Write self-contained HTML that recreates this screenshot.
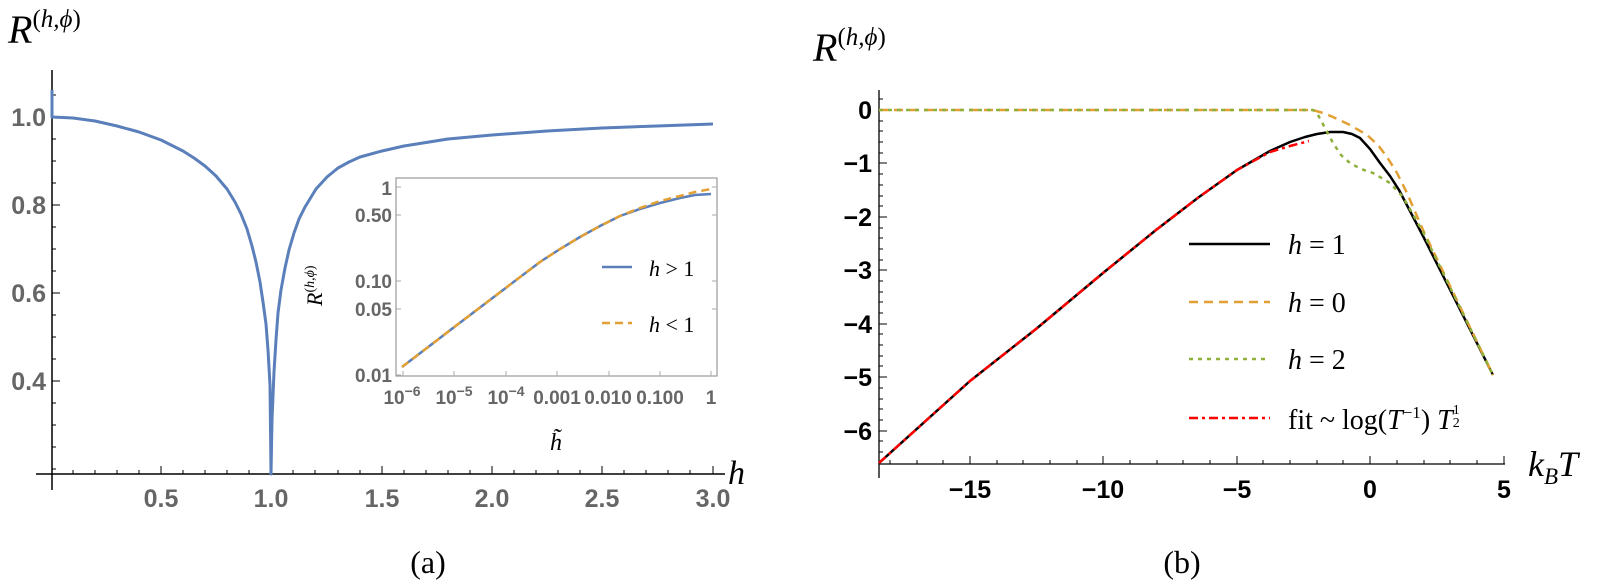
<!DOCTYPE html>
<html><head><meta charset="utf-8"><style>
html,body{margin:0;padding:0;background:#fff;}
svg{display:block;}
.tl{font-family:"Liberation Sans",sans-serif;font-weight:bold;font-size:25px;fill:#666;}
.tb{font-family:"Liberation Sans",sans-serif;font-weight:bold;font-size:25px;fill:#000;}
.ti{font-family:"Liberation Sans",sans-serif;font-weight:bold;font-size:19px;fill:#666;}
.m{font-family:"Liberation Serif",serif;font-style:italic;}
.r{font-family:"Liberation Serif",serif;}
</style></head><body>
<svg width="1604" height="583" viewBox="0 0 1604 583" xmlns="http://www.w3.org/2000/svg">
<!-- Panel a -->
<text x="8" y="43" class="m" font-size="40">R<tspan font-size="25" dy="-16" font-style="normal">(</tspan><tspan font-size="25">h,ϕ</tspan><tspan font-size="25" font-style="normal">)</tspan></text>
<g stroke="#000" stroke-width="1.5">
<line x1="52" y1="70" x2="52" y2="490"/>
<line x1="36" y1="474" x2="725" y2="474"/>
</g>
<g stroke="#000" stroke-width="1">
<path d="M52 117h8M52 205h8M52 293h8M52 381h8M52 95h4M52 139h4M52 161h4M52 183h4M52 227h4M52 249h4M52 271h4M52 315h4M52 337h4M52 359h4M52 403h4M52 425h4M52 447h4M52 469h4"/>
<path d="M161 474v-8M271 474v-8M382 474v-8M492 474v-8M602 474v-8M713 474v-8"/>
<path d="M73 474v-4M95 474v-4M117 474v-4M139 474v-4M183 474v-4M205 474v-4M227 474v-4M249 474v-4M293 474v-4M315 474v-4M338 474v-4M360 474v-4M404 474v-4M426 474v-4M448 474v-4M470 474v-4M514 474v-4M536 474v-4M558 474v-4M580 474v-4M624 474v-4M646 474v-4M668 474v-4M690 474v-4"/>
</g>
<g class="tl" text-anchor="end">
<text x="46" y="126">1.0</text><text x="46" y="214">0.8</text><text x="46" y="302">0.6</text><text x="46" y="390">0.4</text>
</g>
<g class="tl" text-anchor="middle">
<text x="161" y="507">0.5</text><text x="271" y="507">1.0</text><text x="382" y="507">1.5</text><text x="492" y="507">2.0</text><text x="602" y="507">2.5</text><text x="713" y="507">3.0</text>
</g>
<text x="728" y="484" class="m" font-size="34">h</text>
<polyline fill="none" stroke="#5a7fba" stroke-width="3" stroke-linejoin="round" points="52,90 52,117 73,118 95,121 117,126 139,132 161,140 183,151 194,158 205,166 216,176 227,189 235,202 241,214 247,229 252,246 256,262 260,282 263,302 266,324 268,350 270,385 271,474 272,420 274,372 276,340 278,313 281,290 285,268 289,250 294,233 299,219 305,207 316,189 327,177 338,168 349,162 360,157 382,151 404,146 448,139 492,135 547,131 602,128 657,126 713,124"/>
<!-- inset -->
<rect x="396" y="178" width="321" height="198" fill="#fff" stroke="#999" stroke-width="1.2"/>
<g stroke="#aaa" stroke-width="1">
<path d="M396 187h5M396 215h5M396 281h5M396 309h5M396 375h5M717 187h-5M717 215h-5M717 281h-5M717 309h-5"/>
<path d="M403 376v-5M454 376v-5M506 376v-5M557 376v-5M609 376v-5M660 376v-5M711 376v-5"/>
</g>
<g class="ti" text-anchor="end">
<text x="392" y="195">1</text><text x="392" y="222">0.50</text><text x="392" y="288">0.10</text><text x="392" y="316">0.05</text><text x="392" y="382">0.01</text>
</g>
<g class="ti" text-anchor="middle">
<text x="402" y="404">10<tspan font-size="14" dy="-8">−6</tspan></text>
<text x="454" y="404">10<tspan font-size="14" dy="-8">−5</tspan></text>
<text x="506" y="404">10<tspan font-size="14" dy="-8">−4</tspan></text>
<text x="557" y="404">0.001</text><text x="608" y="404">0.010</text><text x="660" y="404">0.100</text><text x="711" y="404">1</text>
</g>
<text transform="translate(322,306) rotate(-90)" class="m" font-size="22">R<tspan font-size="14" dy="-8" font-style="normal">(</tspan><tspan font-size="14">h,ϕ</tspan><tspan font-size="14" font-style="normal">)</tspan></text>
<text x="550" y="450" class="m" font-size="24">h̃</text>
<polyline fill="none" stroke="#5a7fba" stroke-width="2.5" points="402,367 453,328 507,287 540,262 560,249 580,237 600,226 620,216 640,209 660,203 680,198 695,195 711,194"/>
<polyline fill="none" stroke="#e2a034" stroke-width="2.5" stroke-dasharray="8,5" points="402,367 453,328 507,287 540,262 560,249 580,237 600,226 620,216 640,208 660,201 680,196 695,192 711,189"/>
<line x1="602" y1="267" x2="632" y2="267" stroke="#5a7fba" stroke-width="2.5"/>
<line x1="602" y1="323" x2="632" y2="323" stroke="#e2a034" stroke-width="2.5" stroke-dasharray="8,5"/>
<text x="649" y="276" class="m" font-size="22">h <tspan font-style="normal">&gt; 1</tspan></text>
<text x="649" y="332" class="m" font-size="22">h <tspan font-style="normal">&lt; 1</tspan></text>
<text x="428" y="573" class="r" font-size="32" text-anchor="middle">(a)</text>

<!-- Panel b -->
<text x="813" y="61" class="m" font-size="40">R<tspan font-size="25" dy="-16" font-style="normal">(</tspan><tspan font-size="25">h,ϕ</tspan><tspan font-size="25" font-style="normal">)</tspan></text>
<g stroke="#000" stroke-width="1.3">
<line x1="879" y1="90" x2="879" y2="478"/>
<line x1="879" y1="464" x2="1505" y2="464"/>
</g>
<g stroke="#000" stroke-width="1">
<path d="M879 110h8M879 163h8M879 217h8M879 270h8M879 324h8M879 377h8M879 431h8"/>
<path d="M879 99h4M879 121h4M879 131h4M879 142h4M879 153h4M879 174h4M879 185h4M879 196h4M879 206h4M879 228h4M879 238h4M879 249h4M879 260h4M879 281h4M879 292h4M879 302h4M879 313h4M879 334h4M879 345h4M879 356h4M879 366h4M879 388h4M879 399h4M879 409h4M879 420h4M879 441h4M879 452h4"/>
<path d="M970 464v-8M1103 464v-8M1237 464v-8M1370 464v-8M1504 464v-8"/>
<path d="M890 464v-4M917 464v-4M943 464v-4M997 464v-4M1023 464v-4M1050 464v-4M1077 464v-4M1130 464v-4M1157 464v-4M1183 464v-4M1210 464v-4M1263 464v-4M1290 464v-4M1317 464v-4M1343 464v-4M1397 464v-4M1424 464v-4M1450 464v-4M1477 464v-4"/>
</g>
<g class="tb" text-anchor="end">
<text x="872" y="119">0</text><text x="872" y="172">−1</text><text x="872" y="226">−2</text><text x="872" y="279">−3</text><text x="872" y="333">−4</text><text x="872" y="386">−5</text><text x="872" y="440">−6</text>
</g>
<g class="tb" text-anchor="middle">
<text x="970" y="498">−15</text><text x="1103" y="498">−10</text><text x="1237" y="498">−5</text><text x="1370" y="498">0</text><text x="1504" y="498">5</text>
</g>
<text x="1528" y="476" class="m" font-size="36">k<tspan font-size="23" dy="8">B</tspan><tspan dy="-8">T</tspan></text>
<polyline fill="none" stroke="#000" stroke-width="2.5" stroke-linejoin="round" points="879,463 970,381 1036,329 1103,273 1156,230 1199,197 1237,170 1270,151 1290,142 1305,137 1317,134 1330,132 1343,132 1352,134 1360,138 1370,149 1380,163 1390,176 1399,190 1423,236 1493,375" />
<polyline fill="none" stroke="#e2a034" stroke-width="2.5" stroke-dasharray="9,6" points="879,110 1313,110 1323,113 1333,117 1350,125 1367,135 1378,145 1387,157 1397,173 1407,193 1423,230 1493,375"/>
<polyline fill="none" stroke="#8fb03a" stroke-width="2.5" stroke-dasharray="4,5" points="879,110 1313,110 1318,115 1325,128 1333,143 1341,155 1350,163 1361,169 1373,173 1390,183 1403,197 1423,232 1493,375"/>
<polyline fill="none" stroke="#f00" stroke-width="2.5" stroke-dasharray="9,4,3,4" points="879,463 970,381 1036,329 1103,273 1156,230 1199,197 1237,170 1270,152 1290,146 1309,141"/>
<line x1="1189" y1="244" x2="1270" y2="244" stroke="#000" stroke-width="2.5"/>
<line x1="1189" y1="302" x2="1270" y2="302" stroke="#e2a034" stroke-width="2.5" stroke-dasharray="9,6"/>
<line x1="1189" y1="359" x2="1270" y2="359" stroke="#8fb03a" stroke-width="2.5" stroke-dasharray="4,5"/>
<line x1="1189" y1="418" x2="1270" y2="418" stroke="#f00" stroke-width="2.5" stroke-dasharray="9,4,3,4"/>
<text x="1288" y="254" class="m" font-size="28">h <tspan font-style="normal">= 1</tspan></text>
<text x="1288" y="312" class="m" font-size="28">h <tspan font-style="normal">= 0</tspan></text>
<text x="1288" y="369" class="m" font-size="28">h <tspan font-style="normal">= 2</tspan></text>
<text x="1288" y="429" class="r" font-size="28">fit ~ log(<tspan font-style="italic">T</tspan><tspan font-size="17" dy="-11">−1</tspan><tspan dy="11">) </tspan><tspan font-style="italic">T</tspan><tspan font-size="14" dy="-15">1</tspan><tspan font-size="14" dx="-7" dy="13">2</tspan></text>
<text x="1182" y="573" class="r" font-size="32" text-anchor="middle">(b)</text>
</svg>
</body></html>
